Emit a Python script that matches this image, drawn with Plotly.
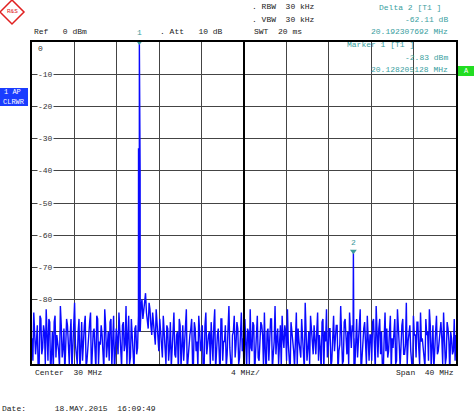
import plotly.graph_objects as go
import numpy as np

noise_levels = [
-92,-84,-97,-88,-101,-86,-95,-90,-83,-99,-87,-94,-102,-85,-91,-96,-82,-98,-89,-93,
-88,-100,-86,-94,-81,-97,-90,-103,-87,-92,-85,-99,-91,-84,-96,-89,-102,-86,-93,-88,
-95,-83,-98,-90,-87,-101,-85,-94,-92,-84,-99,-88,-96,-82,-91,-100,-86,-93,-89,-97,
-85,-90,-80,-83,-78,-86,-81,-88,-84,-91,-83,-89,-86,-93,-85,-95,-88,-99,-87,-92,
-84,-98,-90,-86,-101,-88,-94,-83,-97,-91,-86,-100,-89,-93,-85,-96,-88,-102,-84,-92,
-90,-87,-99,-83,-95,-89,-104,-86,-93,-88,-97,-82,-100,-91,-85,-94,-89,-98,-84,-92,
-86,-101,-90,-83,-96,-88,-93,-85,-99,-87,-91,-84,-103,-89,-94,-86,-97,-82,-92,-100,
-88,-85,-95,-90,-83,-98,-87,-92,-101,-84,-89,-96,-86,-93,-81,-99,-90,-85,-94,-88,
-97,-84,-91,-102,-86,-90,-83,-95,-89,-99,-85,-92,-88,-96,-82,-100,-87,-93,-90,-84,
-95,-88,-101,-86,-92,-83,-97,-89,-94,-85,-99,-91,-87,-93,-82,-98,-86,-90,-103,-84,
-89,-96,-85,-92,-88,-100,-83,-94,-90,-86,-97,-81,-93,-88,-99,-85,-91,-87,-95,-84,
-92,-98,-86,-90,-83,-101,-88,-94,-85,-96,-89,-92,-84,-100,-87,-93,-90,-97,-86,-91,
]
noise_levels_b = [
-99,-89,-93,-102,-85,-97,-88,-100,-91,-86,-104,-90,-87,-98,-93,-101,-88,-95,-103,-86,
-97,-91,-102,-89,-94,-100,-86,-92,-99,-88,-101,-93,-87,-103,-90,-98,-85,-100,-94,-91,
-102,-88,-95,-99,-86,-93,-103,-89,-97,-90,-101,-87,-94,-100,-85,-98,-92,-102,-88,-95,
-90,-82,-86,-80,-84,-89,-83,-91,-87,-94,-88,-96,-90,-98,-92,-100,-89,-95,-101,-90,
-97,-91,-103,-88,-95,-99,-86,-102,-93,-89,-100,-87,-96,-101,-90,-94,-103,-88,-97,-91,
-100,-94,-88,-102,-91,-97,-86,-99,-93,-101,-89,-95,-104,-90,-98,-87,-100,-92,-96,-102,
-93,-89,-100,-95,-87,-103,-91,-98,-94,-88,-101,-96,-90,-99,-86,-102,-93,-97,-89,-95,
-101,-92,-88,-99,-94,-103,-90,-96,-87,-100,-93,-98,-91,-102,-88,-95,-100,-89,-97,-92,
-90,-99,-95,-87,-102,-93,-98,-89,-101,-92,-96,-88,-103,-94,-91,-99,-86,-97,-100,-93,
-88,-101,-94,-98,-90,-103,-92,-87,-100,-95,-91,-99,-86,-102,-94,-89,-97,-101,-92,-96,
-98,-90,-102,-95,-86,-99,-92,-101,-88,-97,-94,-100,-89,-96,-103,-91,-98,-87,-100,-93,
-95,-101,-91,-99,-88,-96,-102,-90,-97,-93,-87,-100,-94,-98,-89,-103,-92,-96,-99,-90,
]
peak_freqs = [20.05, 20.128, 20.2, 40.26, 40.32, 40.38]
peak_levels = [-33, 0, -40, -90, -65, -92]
marker_freqs = [20.128, 40.32]
marker_levels = [0, -65]
marker_labels = ["1", "2"]
ytick_vals = [0, -10, -20, -30, -40, -50, -60, -70, -80]
ytick_text = ["0", "-10", "-20", "-30", "-40", "-50", "-60", "-70", "-80"]

n = len(noise_levels)
step = 40 / (n - 1)
f_a = np.linspace(10, 50, n)
f_b = f_a[:-1] + step / 2
freqs = np.concatenate([f_a, f_b, peak_freqs])
levels = np.concatenate([noise_levels, noise_levels_b[:n - 1], peak_levels])
order = np.argsort(freqs)
freqs, levels = freqs[order], levels[order]

mono = "Liberation Mono"
fig = go.Figure()
fig.add_trace(go.Scatter(x=freqs, y=levels, mode="lines",
                         line=dict(color="#0a0aff", width=1.4), hoverinfo="skip"))
fig.add_trace(go.Scatter(x=marker_freqs, y=marker_levels, mode="markers+text",
                         marker=dict(symbol="triangle-down", size=6, color="#3a9a9a"),
                         text=marker_labels, textposition="top center", cliponaxis=False,
                         textfont=dict(size=8, color="#3a9a9a", family=mono)))

grid = dict(showgrid=True, gridcolor="#444", gridwidth=1, zeroline=False,
            showline=True, linecolor="black", linewidth=2, mirror=True)
fig.update_xaxes(range=[10, 50], dtick=4, tick0=10, showticklabels=False, ticks="", **grid)
fig.update_yaxes(range=[-100, 0], dtick=10, ticks="", showticklabels=False, **grid)
fig.add_shape(type="line", x0=30, x1=30, y0=-100, y1=0, line=dict(color="black", width=2))

for v, t in zip(ytick_vals, ytick_text):
    fig.add_annotation(x=10.5, y=v, xref="x", yref="y", text=t, showarrow=False,
                       xanchor="left", yanchor="middle", yshift=-6 if v == 0 else 0,
                       bgcolor="white", borderpad=0,
                       font=dict(size=8, family=mono, color="#333"))

W, H = 474, 416
L, R, T, B = 32, 456, 42, 364
def px(x): return (x - L) / (R - L)
def py(y): return (B - y) / (B - T)
def txt(x, y, s, color="#222", anchor="left", size=8):
    fig.add_annotation(x=px(x), y=py(y), xref="paper", yref="paper", text=s, showarrow=False,
                       xanchor=anchor, yanchor="middle", font=dict(size=size, family=mono, color=color))
teal = "#3aa0a0"
txt(250, 7, ". RBW  30 kHz"); txt(250, 19, ". VBW  30 kHz"); txt(252, 31, "SWT  20 ms")
txt(32, 31, "Ref   0 dBm"); txt(158, 31, ". Att   10 dB")
txt(410, 8, "Delta 2 [T1 ]", teal, "center"); txt(450, 20, "-62.11 dB", teal, "right")
txt(450, 31, "20.192307692 MHz", teal, "right")
txt(380, 45, "Marker 1 [T1 ]", teal, "center"); txt(450, 57, "-2.83 dBm", teal, "right")
txt(450, 69, "20.128205128 MHz", teal, "right")
txt(33, 372, "Center  30 MHz"); txt(245, 372, "4 MHz/", anchor="center"); txt(456, 372, "Span  40 MHz", anchor="right")
txt(0, 408, "Date:      18.MAY.2015  16:09:49")

fig.add_shape(type="rect", xref="paper", yref="paper", x0=px(458), x1=px(474), y0=py(76), y1=py(66),
              fillcolor="#22dd22", line_width=0)
txt(466, 71, "A", "white", "center", 7)
fig.add_shape(type="rect", xref="paper", yref="paper", x0=px(0), x1=px(28), y0=py(106), y1=py(88),
              fillcolor="#1a3cff", line_width=0)
txt(2, 92, "1 AP", "white", size=7); txt(1, 102, "CLRWR", "white", size=7)
fig.add_shape(type="path", xref="paper", yref="paper",
              path=f"M {px(12)} {py(0)} L {px(24)} {py(12)} L {px(12)} {py(24)} L {px(0)} {py(12)} Z",
              line=dict(color="#e02020", width=1.5))
txt(12, 12, "R&S", "#e02020", "center", 6)

fig.update_layout(width=W, height=H, margin=dict(l=L, r=W-R, t=T, b=H-B),
                  paper_bgcolor="white", plot_bgcolor="white", showlegend=False)
fig.write_html("out.html", config={"displayModeBar": False},
               post_script="document.body.style.margin='0';")
